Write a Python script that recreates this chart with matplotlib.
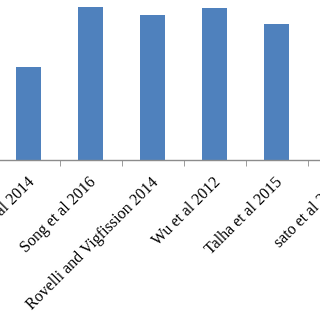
import matplotlib as mpl
mpl.use('Agg')
from matplotlib import pyplot as plt
from matplotlib.transforms import blended_transform_factory, ScaledTranslation
import numpy as np

studies = ['Li et al 2014', 'Song et al 2016', 'Rovelli and Vigfission 2014',
           'Wu et al 2012', 'Talha et al 2015', 'sato et al 2013']
accuracy = [58.1, 95.6, 90.9, 94.7, 84.7, 80.0]

plt.rcParams['font.family'] = ['Liberation Serif', 'DejaVu Serif']

fig = plt.figure(figsize=(3.2, 3.2), dpi=100)
# axes run past the figure edges: the reference is a crop of a wider chart
ax = fig.add_axes([-2.5 / 320, 0.5, 372 / 320, 0.5])

x = np.arange(len(studies))
ax.bar(x, accuracy, width=0.4, color='#4F81BD')
ax.set_xlim(-0.5, len(studies) - 0.5)
ax.set_ylim(0, 100)

for s in ['top', 'right', 'left']:
    ax.spines[s].set_visible(False)
ax.spines['bottom'].set_color('#8c8c8c')
ax.spines['bottom'].set_linewidth(1.0)
ax.set_yticks([])

# category labels drawn as texts so the cut-off ones at the edges still show
ax.set_xticks(x)
ax.set_xticklabels([])
ax.tick_params(axis='x', which='major', length=0)
ax.set_xticks(np.arange(-0.5, len(studies), 1.0), minor=True)
ax.tick_params(axis='x', which='minor', length=4, color='#8c8c8c', direction='out')

trans = blended_transform_factory(ax.transData, ax.transAxes) + \
    ScaledTranslation(-1.5 / 72, -10.5 / 72, fig.dpi_scale_trans)
for xi, name in zip(x, studies):
    ax.text(xi, 0, name, transform=trans, rotation=45, ha='right', va='top',
            rotation_mode='anchor', fontsize=11.5, clip_on=False)

fig.savefig('out.png', dpi=100)
